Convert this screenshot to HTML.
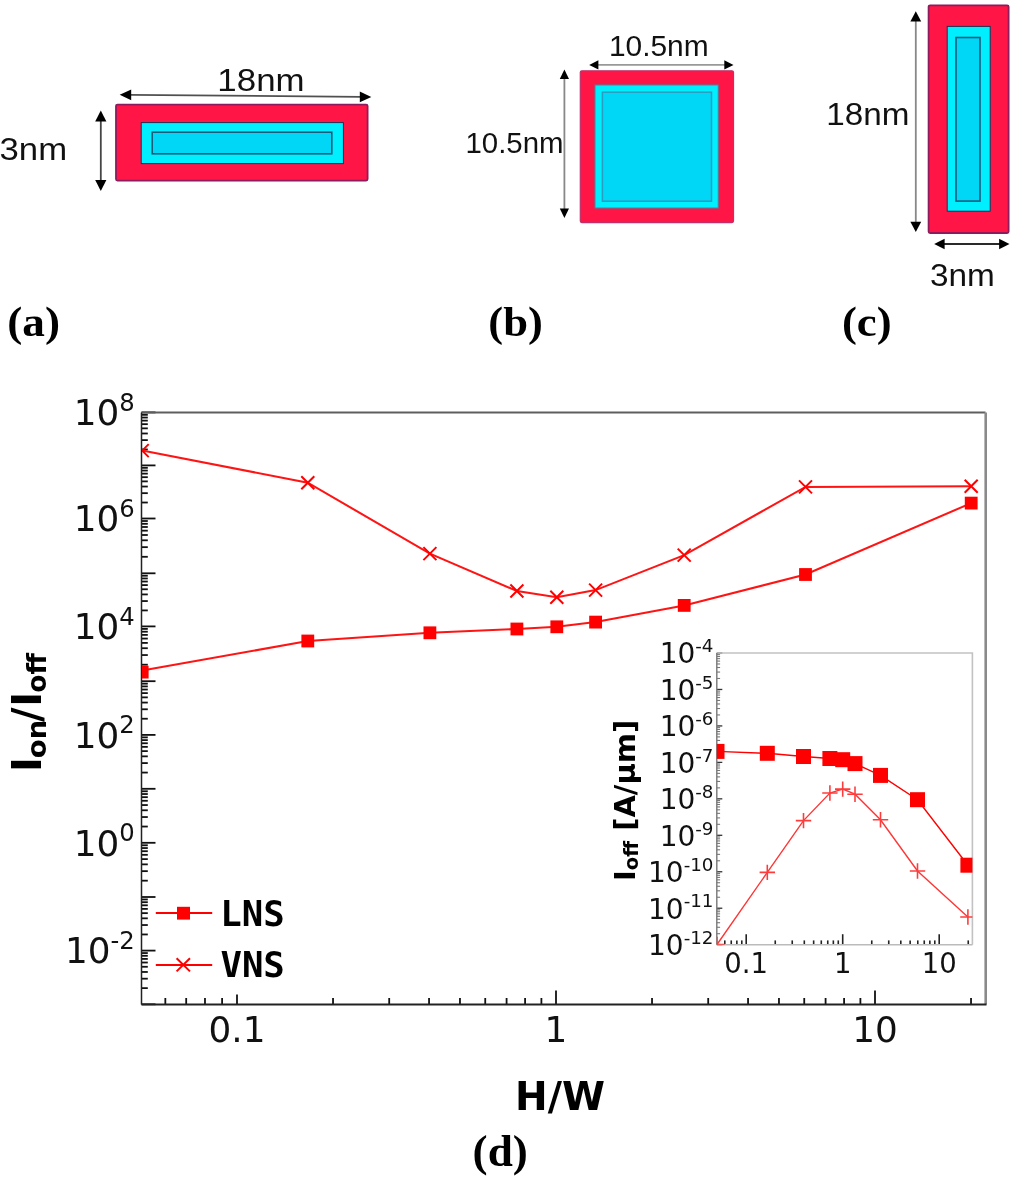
<!DOCTYPE html>
<html><head><meta charset="utf-8"><title>Figure</title>
<style>html,body{margin:0;padding:0;background:#fff;}svg{display:block;}</style></head>
<body><svg width="1018" height="1178" viewBox="0 0 1018 1178">
<rect width="1018" height="1178" fill="#fff"/>
<rect x="116" y="104.6" width="251.6" height="76" rx="1.5" fill="#ff1646" stroke="#8c1c5c" stroke-width="1.8"/>
<rect x="141.2" y="122.6" width="202.2" height="41" fill="#00efff" stroke="#1e3050" stroke-width="1"/>
<rect x="152.2" y="132.2" width="179.6" height="21.6" fill="#00d6f5" stroke="#1a5c7c" stroke-width="1.6"/>
<rect x="580.3" y="70.8" width="153.2" height="151.8" rx="1.5" fill="#ff1646" stroke="#c0306a" stroke-width="1.2"/>
<rect x="595" y="85" width="123.2" height="123" fill="#00efff" stroke="#3a8aa0" stroke-width="1"/>
<rect x="602.4" y="92.2" width="109.1" height="109" fill="#00d6f5" stroke="#2a9cc0" stroke-width="1.5"/>
<rect x="928.6" y="5.3" width="80" height="227.7" rx="1.5" fill="#ff1646" stroke="#8c1c5c" stroke-width="1.8"/>
<rect x="947.2" y="26.4" width="43" height="184.8" fill="#00efff" stroke="#1e3050" stroke-width="1"/>
<rect x="956" y="37.5" width="24" height="163.6" fill="#00d6f5" stroke="#1a5c7c" stroke-width="1.6"/>
<line x1="130.2" y1="94.8" x2="360.8" y2="96.9" stroke="#505050" stroke-width="1.8"/>
<path d="M119.7 94.8 L131.2 89.4 L131.2 100.2Z" fill="#000"/>
<path d="M371.3 96.9 L359.8 91.5 L359.8 102.3Z" fill="#000"/>
<line x1="100.8" y1="120.5" x2="100.8" y2="181" stroke="#454545" stroke-width="1.8"/>
<path d="M100.8 110.5 L95.2 121.5 L106.4 121.5Z" fill="#000"/>
<path d="M100.8 191 L95.2 180 L106.4 180Z" fill="#000"/>
<line x1="597.4" y1="64.9" x2="725.3" y2="64.9" stroke="#999" stroke-width="1.8"/>
<path d="M589.2 64.9 L598.4 60.3 L598.4 69.5Z" fill="#000"/>
<path d="M733.5 64.9 L724.3 60.3 L724.3 69.5Z" fill="#000"/>
<line x1="564.4" y1="78" x2="564.4" y2="209.5" stroke="#888" stroke-width="1.8"/>
<path d="M564.4 69.5 L559.8 79 L569 79Z" fill="#000"/>
<path d="M564.4 218 L559.8 208.5 L569 208.5Z" fill="#000"/>
<line x1="915.8" y1="20.6" x2="915.8" y2="222.7" stroke="#888" stroke-width="1.8"/>
<path d="M915.8 11.3 L910.4 21.6 L921.2 21.6Z" fill="#000"/>
<path d="M915.8 232 L910.4 221.7 L921.2 221.7Z" fill="#000"/>
<line x1="943.6" y1="244" x2="1000.1" y2="244" stroke="#2a2a2a" stroke-width="1.8"/>
<path d="M934.2 244 L944.6 238.8 L944.6 249.2Z" fill="#000"/>
<path d="M1009.5 244 L999.1 238.8 L999.1 249.2Z" fill="#000"/>
<text x="217.35" y="90.9" style="font-family:'Liberation Sans','DejaVu Sans',sans-serif;fill:#111;font-size:31.3px" textLength="87.25" lengthAdjust="spacingAndGlyphs">18nm</text>
<text x="-0.52" y="159.9" style="font-family:'Liberation Sans','DejaVu Sans',sans-serif;fill:#111;font-size:31.6px" textLength="67.61" lengthAdjust="spacingAndGlyphs">3nm</text>
<text x="608.92" y="55.7" style="font-family:'Liberation Sans','DejaVu Sans',sans-serif;fill:#111;font-size:28.6px" textLength="99.75" lengthAdjust="spacingAndGlyphs">10.5nm</text>
<text x="465.46" y="153.1" style="font-family:'Liberation Sans','DejaVu Sans',sans-serif;fill:#111;font-size:29px" textLength="98.08" lengthAdjust="spacingAndGlyphs">10.5nm</text>
<text x="826.37" y="125.3" style="font-family:'Liberation Sans','DejaVu Sans',sans-serif;fill:#111;font-size:31.8px" textLength="83.12" lengthAdjust="spacingAndGlyphs">18nm</text>
<text x="930.03" y="285.9" style="font-family:'Liberation Sans','DejaVu Sans',sans-serif;fill:#111;font-size:31.1px" textLength="64.86" lengthAdjust="spacingAndGlyphs">3nm</text>
<text x="7.31" y="336" style="font-family:'Liberation Serif',serif;font-weight:bold;fill:#000;font-size:42.6px" textLength="52.78" lengthAdjust="spacingAndGlyphs">(a)</text>
<text x="488.34" y="336" style="font-family:'Liberation Serif',serif;font-weight:bold;fill:#000;font-size:42.6px" textLength="54.52" lengthAdjust="spacingAndGlyphs">(b)</text>
<text x="841.93" y="336" style="font-family:'Liberation Serif',serif;font-weight:bold;fill:#000;font-size:42.6px" textLength="49.73" lengthAdjust="spacingAndGlyphs">(c)</text>
<text x="472.61" y="1166.2" style="font-family:'Liberation Serif',serif;font-weight:bold;fill:#000;font-size:43.6px" textLength="55.28" lengthAdjust="spacingAndGlyphs">(d)</text>
<line x1="141.5" y1="1004.3" x2="155.5" y2="1004.3" stroke="#111" stroke-width="1.8"/>
<line x1="141.5" y1="988.13" x2="147.8" y2="988.13" stroke="#111" stroke-width="1.8"/>
<line x1="141.5" y1="978.68" x2="147.8" y2="978.68" stroke="#111" stroke-width="1.8"/>
<line x1="141.5" y1="971.97" x2="147.8" y2="971.97" stroke="#111" stroke-width="1.8"/>
<line x1="141.5" y1="966.77" x2="147.8" y2="966.77" stroke="#111" stroke-width="1.8"/>
<line x1="141.5" y1="962.51" x2="147.8" y2="962.51" stroke="#111" stroke-width="1.8"/>
<line x1="141.5" y1="958.92" x2="147.8" y2="958.92" stroke="#111" stroke-width="1.8"/>
<line x1="141.5" y1="955.8" x2="147.8" y2="955.8" stroke="#111" stroke-width="1.8"/>
<line x1="141.5" y1="953.06" x2="147.8" y2="953.06" stroke="#111" stroke-width="1.8"/>
<line x1="141.5" y1="950.6" x2="155.5" y2="950.6" stroke="#111" stroke-width="1.8"/>
<line x1="141.5" y1="934.46" x2="147.8" y2="934.46" stroke="#111" stroke-width="1.8"/>
<line x1="141.5" y1="925.03" x2="147.8" y2="925.03" stroke="#111" stroke-width="1.8"/>
<line x1="141.5" y1="918.33" x2="147.8" y2="918.33" stroke="#111" stroke-width="1.8"/>
<line x1="141.5" y1="913.14" x2="147.8" y2="913.14" stroke="#111" stroke-width="1.8"/>
<line x1="141.5" y1="908.89" x2="147.8" y2="908.89" stroke="#111" stroke-width="1.8"/>
<line x1="141.5" y1="905.3" x2="147.8" y2="905.3" stroke="#111" stroke-width="1.8"/>
<line x1="141.5" y1="902.19" x2="147.8" y2="902.19" stroke="#111" stroke-width="1.8"/>
<line x1="141.5" y1="899.45" x2="147.8" y2="899.45" stroke="#111" stroke-width="1.8"/>
<line x1="141.5" y1="897" x2="155.5" y2="897" stroke="#111" stroke-width="1.8"/>
<line x1="141.5" y1="880.68" x2="147.8" y2="880.68" stroke="#111" stroke-width="1.8"/>
<line x1="141.5" y1="871.14" x2="147.8" y2="871.14" stroke="#111" stroke-width="1.8"/>
<line x1="141.5" y1="864.37" x2="147.8" y2="864.37" stroke="#111" stroke-width="1.8"/>
<line x1="141.5" y1="859.12" x2="147.8" y2="859.12" stroke="#111" stroke-width="1.8"/>
<line x1="141.5" y1="854.82" x2="147.8" y2="854.82" stroke="#111" stroke-width="1.8"/>
<line x1="141.5" y1="851.2" x2="147.8" y2="851.2" stroke="#111" stroke-width="1.8"/>
<line x1="141.5" y1="848.05" x2="147.8" y2="848.05" stroke="#111" stroke-width="1.8"/>
<line x1="141.5" y1="845.28" x2="147.8" y2="845.28" stroke="#111" stroke-width="1.8"/>
<line x1="141.5" y1="842.8" x2="155.5" y2="842.8" stroke="#111" stroke-width="1.8"/>
<line x1="141.5" y1="826.54" x2="147.8" y2="826.54" stroke="#111" stroke-width="1.8"/>
<line x1="141.5" y1="817.04" x2="147.8" y2="817.04" stroke="#111" stroke-width="1.8"/>
<line x1="141.5" y1="810.29" x2="147.8" y2="810.29" stroke="#111" stroke-width="1.8"/>
<line x1="141.5" y1="805.06" x2="147.8" y2="805.06" stroke="#111" stroke-width="1.8"/>
<line x1="141.5" y1="800.78" x2="147.8" y2="800.78" stroke="#111" stroke-width="1.8"/>
<line x1="141.5" y1="797.16" x2="147.8" y2="797.16" stroke="#111" stroke-width="1.8"/>
<line x1="141.5" y1="794.03" x2="147.8" y2="794.03" stroke="#111" stroke-width="1.8"/>
<line x1="141.5" y1="791.27" x2="147.8" y2="791.27" stroke="#111" stroke-width="1.8"/>
<line x1="141.5" y1="788.8" x2="155.5" y2="788.8" stroke="#111" stroke-width="1.8"/>
<line x1="141.5" y1="772.57" x2="147.8" y2="772.57" stroke="#111" stroke-width="1.8"/>
<line x1="141.5" y1="763.08" x2="147.8" y2="763.08" stroke="#111" stroke-width="1.8"/>
<line x1="141.5" y1="756.35" x2="147.8" y2="756.35" stroke="#111" stroke-width="1.8"/>
<line x1="141.5" y1="751.13" x2="147.8" y2="751.13" stroke="#111" stroke-width="1.8"/>
<line x1="141.5" y1="746.86" x2="147.8" y2="746.86" stroke="#111" stroke-width="1.8"/>
<line x1="141.5" y1="743.25" x2="147.8" y2="743.25" stroke="#111" stroke-width="1.8"/>
<line x1="141.5" y1="740.12" x2="147.8" y2="740.12" stroke="#111" stroke-width="1.8"/>
<line x1="141.5" y1="737.37" x2="147.8" y2="737.37" stroke="#111" stroke-width="1.8"/>
<line x1="141.5" y1="734.9" x2="155.5" y2="734.9" stroke="#111" stroke-width="1.8"/>
<line x1="141.5" y1="718.73" x2="147.8" y2="718.73" stroke="#111" stroke-width="1.8"/>
<line x1="141.5" y1="709.28" x2="147.8" y2="709.28" stroke="#111" stroke-width="1.8"/>
<line x1="141.5" y1="702.57" x2="147.8" y2="702.57" stroke="#111" stroke-width="1.8"/>
<line x1="141.5" y1="697.37" x2="147.8" y2="697.37" stroke="#111" stroke-width="1.8"/>
<line x1="141.5" y1="693.11" x2="147.8" y2="693.11" stroke="#111" stroke-width="1.8"/>
<line x1="141.5" y1="689.52" x2="147.8" y2="689.52" stroke="#111" stroke-width="1.8"/>
<line x1="141.5" y1="686.4" x2="147.8" y2="686.4" stroke="#111" stroke-width="1.8"/>
<line x1="141.5" y1="683.66" x2="147.8" y2="683.66" stroke="#111" stroke-width="1.8"/>
<line x1="141.5" y1="681.2" x2="155.5" y2="681.2" stroke="#111" stroke-width="1.8"/>
<line x1="141.5" y1="664.7" x2="147.8" y2="664.7" stroke="#111" stroke-width="1.8"/>
<line x1="141.5" y1="655.05" x2="147.8" y2="655.05" stroke="#111" stroke-width="1.8"/>
<line x1="141.5" y1="648.21" x2="147.8" y2="648.21" stroke="#111" stroke-width="1.8"/>
<line x1="141.5" y1="642.9" x2="147.8" y2="642.9" stroke="#111" stroke-width="1.8"/>
<line x1="141.5" y1="638.56" x2="147.8" y2="638.56" stroke="#111" stroke-width="1.8"/>
<line x1="141.5" y1="634.89" x2="147.8" y2="634.89" stroke="#111" stroke-width="1.8"/>
<line x1="141.5" y1="631.71" x2="147.8" y2="631.71" stroke="#111" stroke-width="1.8"/>
<line x1="141.5" y1="628.91" x2="147.8" y2="628.91" stroke="#111" stroke-width="1.8"/>
<line x1="141.5" y1="626.4" x2="155.5" y2="626.4" stroke="#111" stroke-width="1.8"/>
<line x1="141.5" y1="610.42" x2="147.8" y2="610.42" stroke="#111" stroke-width="1.8"/>
<line x1="141.5" y1="601.06" x2="147.8" y2="601.06" stroke="#111" stroke-width="1.8"/>
<line x1="141.5" y1="594.43" x2="147.8" y2="594.43" stroke="#111" stroke-width="1.8"/>
<line x1="141.5" y1="589.28" x2="147.8" y2="589.28" stroke="#111" stroke-width="1.8"/>
<line x1="141.5" y1="585.08" x2="147.8" y2="585.08" stroke="#111" stroke-width="1.8"/>
<line x1="141.5" y1="581.53" x2="147.8" y2="581.53" stroke="#111" stroke-width="1.8"/>
<line x1="141.5" y1="578.45" x2="147.8" y2="578.45" stroke="#111" stroke-width="1.8"/>
<line x1="141.5" y1="575.73" x2="147.8" y2="575.73" stroke="#111" stroke-width="1.8"/>
<line x1="141.5" y1="573.3" x2="155.5" y2="573.3" stroke="#111" stroke-width="1.8"/>
<line x1="141.5" y1="556.8" x2="147.8" y2="556.8" stroke="#111" stroke-width="1.8"/>
<line x1="141.5" y1="547.15" x2="147.8" y2="547.15" stroke="#111" stroke-width="1.8"/>
<line x1="141.5" y1="540.31" x2="147.8" y2="540.31" stroke="#111" stroke-width="1.8"/>
<line x1="141.5" y1="535" x2="147.8" y2="535" stroke="#111" stroke-width="1.8"/>
<line x1="141.5" y1="530.66" x2="147.8" y2="530.66" stroke="#111" stroke-width="1.8"/>
<line x1="141.5" y1="526.99" x2="147.8" y2="526.99" stroke="#111" stroke-width="1.8"/>
<line x1="141.5" y1="523.81" x2="147.8" y2="523.81" stroke="#111" stroke-width="1.8"/>
<line x1="141.5" y1="521.01" x2="147.8" y2="521.01" stroke="#111" stroke-width="1.8"/>
<line x1="141.5" y1="518.5" x2="155.5" y2="518.5" stroke="#111" stroke-width="1.8"/>
<line x1="141.5" y1="502.52" x2="147.8" y2="502.52" stroke="#111" stroke-width="1.8"/>
<line x1="141.5" y1="493.16" x2="147.8" y2="493.16" stroke="#111" stroke-width="1.8"/>
<line x1="141.5" y1="486.53" x2="147.8" y2="486.53" stroke="#111" stroke-width="1.8"/>
<line x1="141.5" y1="481.38" x2="147.8" y2="481.38" stroke="#111" stroke-width="1.8"/>
<line x1="141.5" y1="477.18" x2="147.8" y2="477.18" stroke="#111" stroke-width="1.8"/>
<line x1="141.5" y1="473.63" x2="147.8" y2="473.63" stroke="#111" stroke-width="1.8"/>
<line x1="141.5" y1="470.55" x2="147.8" y2="470.55" stroke="#111" stroke-width="1.8"/>
<line x1="141.5" y1="467.83" x2="147.8" y2="467.83" stroke="#111" stroke-width="1.8"/>
<line x1="141.5" y1="465.4" x2="155.5" y2="465.4" stroke="#111" stroke-width="1.8"/>
<line x1="141.5" y1="449.45" x2="147.8" y2="449.45" stroke="#111" stroke-width="1.8"/>
<line x1="141.5" y1="440.11" x2="147.8" y2="440.11" stroke="#111" stroke-width="1.8"/>
<line x1="141.5" y1="433.49" x2="147.8" y2="433.49" stroke="#111" stroke-width="1.8"/>
<line x1="141.5" y1="428.35" x2="147.8" y2="428.35" stroke="#111" stroke-width="1.8"/>
<line x1="141.5" y1="424.16" x2="147.8" y2="424.16" stroke="#111" stroke-width="1.8"/>
<line x1="141.5" y1="420.61" x2="147.8" y2="420.61" stroke="#111" stroke-width="1.8"/>
<line x1="141.5" y1="417.54" x2="147.8" y2="417.54" stroke="#111" stroke-width="1.8"/>
<line x1="141.5" y1="414.83" x2="147.8" y2="414.83" stroke="#111" stroke-width="1.8"/>
<line x1="141.5" y1="412.4" x2="155.5" y2="412.4" stroke="#111" stroke-width="1.8"/>
<line x1="237" y1="1004.5" x2="237" y2="994.5" stroke="#111" stroke-width="1.8"/>
<line x1="556" y1="1004.5" x2="556" y2="990.5" stroke="#111" stroke-width="1.8"/>
<line x1="875" y1="1004.5" x2="875" y2="990.5" stroke="#111" stroke-width="1.8"/>
<line x1="165.33" y1="1004.5" x2="165.33" y2="998" stroke="#111" stroke-width="1.8"/>
<line x1="186.19" y1="1004.5" x2="186.19" y2="998" stroke="#111" stroke-width="1.8"/>
<line x1="204.99" y1="1004.5" x2="204.99" y2="998" stroke="#111" stroke-width="1.8"/>
<line x1="222.1" y1="1004.5" x2="222.1" y2="998" stroke="#111" stroke-width="1.8"/>
<line x1="333.03" y1="1004.5" x2="333.03" y2="998" stroke="#111" stroke-width="1.8"/>
<line x1="389.2" y1="1004.5" x2="389.2" y2="998" stroke="#111" stroke-width="1.8"/>
<line x1="429.06" y1="1004.5" x2="429.06" y2="998" stroke="#111" stroke-width="1.8"/>
<line x1="459.97" y1="1004.5" x2="459.97" y2="998" stroke="#111" stroke-width="1.8"/>
<line x1="485.23" y1="1004.5" x2="485.23" y2="998" stroke="#111" stroke-width="1.8"/>
<line x1="506.59" y1="1004.5" x2="506.59" y2="998" stroke="#111" stroke-width="1.8"/>
<line x1="525.09" y1="1004.5" x2="525.09" y2="998" stroke="#111" stroke-width="1.8"/>
<line x1="541.4" y1="1004.5" x2="541.4" y2="998" stroke="#111" stroke-width="1.8"/>
<line x1="652.03" y1="1004.5" x2="652.03" y2="998" stroke="#111" stroke-width="1.8"/>
<line x1="708.2" y1="1004.5" x2="708.2" y2="998" stroke="#111" stroke-width="1.8"/>
<line x1="748.06" y1="1004.5" x2="748.06" y2="998" stroke="#111" stroke-width="1.8"/>
<line x1="778.97" y1="1004.5" x2="778.97" y2="998" stroke="#111" stroke-width="1.8"/>
<line x1="804.23" y1="1004.5" x2="804.23" y2="998" stroke="#111" stroke-width="1.8"/>
<line x1="825.59" y1="1004.5" x2="825.59" y2="998" stroke="#111" stroke-width="1.8"/>
<line x1="844.09" y1="1004.5" x2="844.09" y2="998" stroke="#111" stroke-width="1.8"/>
<line x1="860.4" y1="1004.5" x2="860.4" y2="998" stroke="#111" stroke-width="1.8"/>
<line x1="971.03" y1="1004.5" x2="971.03" y2="998" stroke="#111" stroke-width="1.8"/>
<path d="M141.5 412.5 H985.5" fill="none" stroke="#5e5e5e" stroke-width="2.2"/>
<path d="M985.7 412.5 V1004.5" fill="none" stroke="#8a8a8a" stroke-width="2.6"/>
<path d="M141.5 412.5 V1004.5" fill="none" stroke="#222" stroke-width="1.5"/>
<path d="M141.5 1004.5 H986.5" fill="none" stroke="#222" stroke-width="2"/>
<text x="134.7" y="425.2" text-anchor="end" style="font-family:'DejaVu Sans',sans-serif;fill:#111;font-size:35.8px">10<tspan dy="-14.3" style="font-size:24.3px">8</tspan></text>
<text x="134.7" y="531.3" text-anchor="end" style="font-family:'DejaVu Sans',sans-serif;fill:#111;font-size:35.8px">10<tspan dy="-14.3" style="font-size:24.3px">6</tspan></text>
<text x="134.7" y="639.2" text-anchor="end" style="font-family:'DejaVu Sans',sans-serif;fill:#111;font-size:35.8px">10<tspan dy="-14.3" style="font-size:24.3px">4</tspan></text>
<text x="134.7" y="747.7" text-anchor="end" style="font-family:'DejaVu Sans',sans-serif;fill:#111;font-size:35.8px">10<tspan dy="-14.3" style="font-size:24.3px">2</tspan></text>
<text x="134.7" y="855.6" text-anchor="end" style="font-family:'DejaVu Sans',sans-serif;fill:#111;font-size:35.8px">10<tspan dy="-14.3" style="font-size:24.3px">0</tspan></text>
<text x="134.7" y="963.4" text-anchor="end" style="font-family:'DejaVu Sans',sans-serif;fill:#111;font-size:35.8px">10<tspan dy="-14.3" style="font-size:24.3px">-2</tspan></text>
<text x="237" y="1041.5" text-anchor="middle" style="font-family:'DejaVu Sans',sans-serif;fill:#111;font-size:35.8px">0.1</text>
<text x="556" y="1041.5" text-anchor="middle" style="font-family:'DejaVu Sans',sans-serif;fill:#111;font-size:35.8px">1</text>
<text x="875" y="1041.5" text-anchor="middle" style="font-family:'DejaVu Sans',sans-serif;fill:#111;font-size:35.8px">10</text>
<text x="560" y="1109.5" text-anchor="middle" style="font-family:'DejaVu Sans',sans-serif;font-weight:bold;fill:#000;font-size:39px">H/W</text>
<text transform="translate(41.2 0) rotate(-90)" style="font-family:'DejaVu Sans',sans-serif;font-weight:bold;fill:#000;font-size:40px"><tspan x="-771.97" y="0">I</tspan><tspan x="-758.2" y="4.9" style="font-size:27.4px">on</tspan><tspan x="-722" y="0">/</tspan><tspan x="-706.67" y="0">I</tspan><tspan x="-692.84" y="4.9" style="font-size:26.5px">off</tspan></text>
<defs><clipPath id="cm"><rect x="142" y="412" width="844" height="593"/></clipPath><clipPath id="ci"><rect x="716.8" y="653" width="255.6" height="291.7"/></clipPath></defs>
<g clip-path="url(#cm)">
<polyline points="142.2,450.6 307.8,482.7 429.9,553.6 516.9,591 556.8,597.2 595.6,590.1 684.2,555.1 805.5,486.9 971.2,486.2" fill="none" stroke="#ff1414" stroke-width="2.05"/>
<polyline points="142.2,670.6 307.8,641 429.9,632.8 516.9,629 556.8,626.8 595.6,622.1 684.2,605.4 805.5,574.5 971.2,503.1" fill="none" stroke="#ff1414" stroke-width="2.05"/>
<path d="M135.7 444.1 L148.7 457.1 M135.7 457.1 L148.7 444.1" stroke="#ff0000" stroke-width="2"/>
<path d="M301.3 476.2 L314.3 489.2 M301.3 489.2 L314.3 476.2" stroke="#ff0000" stroke-width="2"/>
<path d="M423.4 547.1 L436.4 560.1 M423.4 560.1 L436.4 547.1" stroke="#ff0000" stroke-width="2"/>
<path d="M510.4 584.5 L523.4 597.5 M510.4 597.5 L523.4 584.5" stroke="#ff0000" stroke-width="2"/>
<path d="M550.3 590.7 L563.3 603.7 M550.3 603.7 L563.3 590.7" stroke="#ff0000" stroke-width="2"/>
<path d="M589.1 583.6 L602.1 596.6 M589.1 596.6 L602.1 583.6" stroke="#ff0000" stroke-width="2"/>
<path d="M677.7 548.6 L690.7 561.6 M677.7 561.6 L690.7 548.6" stroke="#ff0000" stroke-width="2"/>
<path d="M799 480.4 L812 493.4 M799 493.4 L812 480.4" stroke="#ff0000" stroke-width="2"/>
<path d="M964.7 479.7 L977.7 492.7 M964.7 492.7 L977.7 479.7" stroke="#ff0000" stroke-width="2"/>
<rect x="135.8" y="665.7" width="12.8" height="12.8" fill="#ff0000"/>
<rect x="301.4" y="634.6" width="12.8" height="12.8" fill="#ff0000"/>
<rect x="423.5" y="626.4" width="12.8" height="12.8" fill="#ff0000"/>
<rect x="510.5" y="622.6" width="12.8" height="12.8" fill="#ff0000"/>
<rect x="550.4" y="620.4" width="12.8" height="12.8" fill="#ff0000"/>
<rect x="589.2" y="615.7" width="12.8" height="12.8" fill="#ff0000"/>
<rect x="677.8" y="599" width="12.8" height="12.8" fill="#ff0000"/>
<rect x="799.1" y="568.1" width="12.8" height="12.8" fill="#ff0000"/>
<rect x="964.8" y="496.7" width="12.8" height="12.8" fill="#ff0000"/>
</g>
<line x1="155.8" y1="913.1" x2="212.2" y2="913.1" stroke="#ff0000" stroke-width="2"/>
<rect x="177" y="906.8" width="13" height="12.8" fill="#ff0000"/>
<line x1="155.8" y1="965" x2="212.2" y2="965" stroke="#ff0000" stroke-width="2"/>
<path d="M176.6 958.2 L190 971.4 M176.6 971.4 L190 958.2" stroke="#ff0000" stroke-width="2"/>
<text x="220.3" y="926" style="font-family:'DejaVu Sans Mono',monospace;font-weight:bold;fill:#000;font-size:35.7px">LNS</text>
<text x="220.4" y="976.6" style="font-family:'DejaVu Sans Mono',monospace;font-weight:bold;fill:#000;font-size:35.7px">VNS</text>
<rect x="716.8" y="653.0" width="255.60000000000002" height="291.70000000000005" fill="#fff"/>
<line x1="716.8" y1="944.68" x2="722.3" y2="944.68" stroke="#333" stroke-width="1.3"/>
<line x1="716.8" y1="908.22" x2="722.3" y2="908.22" stroke="#333" stroke-width="1.3"/>
<line x1="716.8" y1="871.76" x2="722.3" y2="871.76" stroke="#333" stroke-width="1.3"/>
<line x1="716.8" y1="835.3" x2="722.3" y2="835.3" stroke="#333" stroke-width="1.3"/>
<line x1="716.8" y1="798.84" x2="722.3" y2="798.84" stroke="#333" stroke-width="1.3"/>
<line x1="716.8" y1="762.38" x2="722.3" y2="762.38" stroke="#333" stroke-width="1.3"/>
<line x1="716.8" y1="725.92" x2="722.3" y2="725.92" stroke="#333" stroke-width="1.3"/>
<line x1="716.8" y1="689.46" x2="722.3" y2="689.46" stroke="#333" stroke-width="1.3"/>
<line x1="716.8" y1="653" x2="722.3" y2="653" stroke="#333" stroke-width="1.3"/>
<line x1="716.8" y1="933.7" x2="720.0999999999999" y2="933.7" stroke="#777" stroke-width="1.1"/>
<line x1="716.8" y1="927.28" x2="720.0999999999999" y2="927.28" stroke="#777" stroke-width="1.1"/>
<line x1="716.8" y1="922.73" x2="720.0999999999999" y2="922.73" stroke="#777" stroke-width="1.1"/>
<line x1="716.8" y1="919.2" x2="720.0999999999999" y2="919.2" stroke="#777" stroke-width="1.1"/>
<line x1="716.8" y1="916.31" x2="720.0999999999999" y2="916.31" stroke="#777" stroke-width="1.1"/>
<line x1="716.8" y1="913.87" x2="720.0999999999999" y2="913.87" stroke="#777" stroke-width="1.1"/>
<line x1="716.8" y1="911.75" x2="720.0999999999999" y2="911.75" stroke="#777" stroke-width="1.1"/>
<line x1="716.8" y1="909.89" x2="720.0999999999999" y2="909.89" stroke="#777" stroke-width="1.1"/>
<line x1="716.8" y1="897.24" x2="720.0999999999999" y2="897.24" stroke="#777" stroke-width="1.1"/>
<line x1="716.8" y1="890.82" x2="720.0999999999999" y2="890.82" stroke="#777" stroke-width="1.1"/>
<line x1="716.8" y1="886.27" x2="720.0999999999999" y2="886.27" stroke="#777" stroke-width="1.1"/>
<line x1="716.8" y1="882.74" x2="720.0999999999999" y2="882.74" stroke="#777" stroke-width="1.1"/>
<line x1="716.8" y1="879.85" x2="720.0999999999999" y2="879.85" stroke="#777" stroke-width="1.1"/>
<line x1="716.8" y1="877.41" x2="720.0999999999999" y2="877.41" stroke="#777" stroke-width="1.1"/>
<line x1="716.8" y1="875.29" x2="720.0999999999999" y2="875.29" stroke="#777" stroke-width="1.1"/>
<line x1="716.8" y1="873.43" x2="720.0999999999999" y2="873.43" stroke="#777" stroke-width="1.1"/>
<line x1="716.8" y1="860.78" x2="720.0999999999999" y2="860.78" stroke="#777" stroke-width="1.1"/>
<line x1="716.8" y1="854.36" x2="720.0999999999999" y2="854.36" stroke="#777" stroke-width="1.1"/>
<line x1="716.8" y1="849.81" x2="720.0999999999999" y2="849.81" stroke="#777" stroke-width="1.1"/>
<line x1="716.8" y1="846.28" x2="720.0999999999999" y2="846.28" stroke="#777" stroke-width="1.1"/>
<line x1="716.8" y1="843.39" x2="720.0999999999999" y2="843.39" stroke="#777" stroke-width="1.1"/>
<line x1="716.8" y1="840.95" x2="720.0999999999999" y2="840.95" stroke="#777" stroke-width="1.1"/>
<line x1="716.8" y1="838.83" x2="720.0999999999999" y2="838.83" stroke="#777" stroke-width="1.1"/>
<line x1="716.8" y1="836.97" x2="720.0999999999999" y2="836.97" stroke="#777" stroke-width="1.1"/>
<line x1="716.8" y1="824.32" x2="720.0999999999999" y2="824.32" stroke="#777" stroke-width="1.1"/>
<line x1="716.8" y1="817.9" x2="720.0999999999999" y2="817.9" stroke="#777" stroke-width="1.1"/>
<line x1="716.8" y1="813.35" x2="720.0999999999999" y2="813.35" stroke="#777" stroke-width="1.1"/>
<line x1="716.8" y1="809.82" x2="720.0999999999999" y2="809.82" stroke="#777" stroke-width="1.1"/>
<line x1="716.8" y1="806.93" x2="720.0999999999999" y2="806.93" stroke="#777" stroke-width="1.1"/>
<line x1="716.8" y1="804.49" x2="720.0999999999999" y2="804.49" stroke="#777" stroke-width="1.1"/>
<line x1="716.8" y1="802.37" x2="720.0999999999999" y2="802.37" stroke="#777" stroke-width="1.1"/>
<line x1="716.8" y1="800.51" x2="720.0999999999999" y2="800.51" stroke="#777" stroke-width="1.1"/>
<line x1="716.8" y1="787.86" x2="720.0999999999999" y2="787.86" stroke="#777" stroke-width="1.1"/>
<line x1="716.8" y1="781.44" x2="720.0999999999999" y2="781.44" stroke="#777" stroke-width="1.1"/>
<line x1="716.8" y1="776.89" x2="720.0999999999999" y2="776.89" stroke="#777" stroke-width="1.1"/>
<line x1="716.8" y1="773.36" x2="720.0999999999999" y2="773.36" stroke="#777" stroke-width="1.1"/>
<line x1="716.8" y1="770.47" x2="720.0999999999999" y2="770.47" stroke="#777" stroke-width="1.1"/>
<line x1="716.8" y1="768.03" x2="720.0999999999999" y2="768.03" stroke="#777" stroke-width="1.1"/>
<line x1="716.8" y1="765.91" x2="720.0999999999999" y2="765.91" stroke="#777" stroke-width="1.1"/>
<line x1="716.8" y1="764.05" x2="720.0999999999999" y2="764.05" stroke="#777" stroke-width="1.1"/>
<line x1="716.8" y1="751.4" x2="720.0999999999999" y2="751.4" stroke="#777" stroke-width="1.1"/>
<line x1="716.8" y1="744.98" x2="720.0999999999999" y2="744.98" stroke="#777" stroke-width="1.1"/>
<line x1="716.8" y1="740.43" x2="720.0999999999999" y2="740.43" stroke="#777" stroke-width="1.1"/>
<line x1="716.8" y1="736.9" x2="720.0999999999999" y2="736.9" stroke="#777" stroke-width="1.1"/>
<line x1="716.8" y1="734.01" x2="720.0999999999999" y2="734.01" stroke="#777" stroke-width="1.1"/>
<line x1="716.8" y1="731.57" x2="720.0999999999999" y2="731.57" stroke="#777" stroke-width="1.1"/>
<line x1="716.8" y1="729.45" x2="720.0999999999999" y2="729.45" stroke="#777" stroke-width="1.1"/>
<line x1="716.8" y1="727.59" x2="720.0999999999999" y2="727.59" stroke="#777" stroke-width="1.1"/>
<line x1="716.8" y1="714.94" x2="720.0999999999999" y2="714.94" stroke="#777" stroke-width="1.1"/>
<line x1="716.8" y1="708.52" x2="720.0999999999999" y2="708.52" stroke="#777" stroke-width="1.1"/>
<line x1="716.8" y1="703.97" x2="720.0999999999999" y2="703.97" stroke="#777" stroke-width="1.1"/>
<line x1="716.8" y1="700.44" x2="720.0999999999999" y2="700.44" stroke="#777" stroke-width="1.1"/>
<line x1="716.8" y1="697.55" x2="720.0999999999999" y2="697.55" stroke="#777" stroke-width="1.1"/>
<line x1="716.8" y1="695.11" x2="720.0999999999999" y2="695.11" stroke="#777" stroke-width="1.1"/>
<line x1="716.8" y1="692.99" x2="720.0999999999999" y2="692.99" stroke="#777" stroke-width="1.1"/>
<line x1="716.8" y1="691.13" x2="720.0999999999999" y2="691.13" stroke="#777" stroke-width="1.1"/>
<line x1="716.8" y1="678.48" x2="720.0999999999999" y2="678.48" stroke="#777" stroke-width="1.1"/>
<line x1="716.8" y1="672.06" x2="720.0999999999999" y2="672.06" stroke="#777" stroke-width="1.1"/>
<line x1="716.8" y1="667.51" x2="720.0999999999999" y2="667.51" stroke="#777" stroke-width="1.1"/>
<line x1="716.8" y1="663.98" x2="720.0999999999999" y2="663.98" stroke="#777" stroke-width="1.1"/>
<line x1="716.8" y1="661.09" x2="720.0999999999999" y2="661.09" stroke="#777" stroke-width="1.1"/>
<line x1="716.8" y1="658.65" x2="720.0999999999999" y2="658.65" stroke="#777" stroke-width="1.1"/>
<line x1="716.8" y1="656.53" x2="720.0999999999999" y2="656.53" stroke="#777" stroke-width="1.1"/>
<line x1="716.8" y1="654.67" x2="720.0999999999999" y2="654.67" stroke="#777" stroke-width="1.1"/>
<line x1="746.2" y1="944.7" x2="746.2" y2="934.2" stroke="#222" stroke-width="1.6"/>
<line x1="842.7" y1="944.7" x2="842.7" y2="934.2" stroke="#222" stroke-width="1.6"/>
<line x1="939.2" y1="944.7" x2="939.2" y2="934.2" stroke="#222" stroke-width="1.6"/>
<line x1="724.79" y1="944.7" x2="724.79" y2="940.4" stroke="#222" stroke-width="1.6"/>
<line x1="731.25" y1="944.7" x2="731.25" y2="940.4" stroke="#222" stroke-width="1.6"/>
<line x1="736.85" y1="944.7" x2="736.85" y2="940.4" stroke="#222" stroke-width="1.6"/>
<line x1="741.78" y1="944.7" x2="741.78" y2="940.4" stroke="#222" stroke-width="1.6"/>
<line x1="775.25" y1="944.7" x2="775.25" y2="940.4" stroke="#222" stroke-width="1.6"/>
<line x1="792.24" y1="944.7" x2="792.24" y2="940.4" stroke="#222" stroke-width="1.6"/>
<line x1="804.3" y1="944.7" x2="804.3" y2="940.4" stroke="#222" stroke-width="1.6"/>
<line x1="813.65" y1="944.7" x2="813.65" y2="940.4" stroke="#222" stroke-width="1.6"/>
<line x1="821.29" y1="944.7" x2="821.29" y2="940.4" stroke="#222" stroke-width="1.6"/>
<line x1="827.75" y1="944.7" x2="827.75" y2="940.4" stroke="#222" stroke-width="1.6"/>
<line x1="833.35" y1="944.7" x2="833.35" y2="940.4" stroke="#222" stroke-width="1.6"/>
<line x1="838.28" y1="944.7" x2="838.28" y2="940.4" stroke="#222" stroke-width="1.6"/>
<line x1="871.75" y1="944.7" x2="871.75" y2="940.4" stroke="#222" stroke-width="1.6"/>
<line x1="888.74" y1="944.7" x2="888.74" y2="940.4" stroke="#222" stroke-width="1.6"/>
<line x1="900.8" y1="944.7" x2="900.8" y2="940.4" stroke="#222" stroke-width="1.6"/>
<line x1="910.15" y1="944.7" x2="910.15" y2="940.4" stroke="#222" stroke-width="1.6"/>
<line x1="917.79" y1="944.7" x2="917.79" y2="940.4" stroke="#222" stroke-width="1.6"/>
<line x1="924.25" y1="944.7" x2="924.25" y2="940.4" stroke="#222" stroke-width="1.6"/>
<line x1="929.85" y1="944.7" x2="929.85" y2="940.4" stroke="#222" stroke-width="1.6"/>
<line x1="934.78" y1="944.7" x2="934.78" y2="940.4" stroke="#222" stroke-width="1.6"/>
<line x1="968.25" y1="944.7" x2="968.25" y2="940.4" stroke="#222" stroke-width="1.6"/>
<path d="M716.8 653.0 H972.4 V944.7" fill="none" stroke="#c2c2c2" stroke-width="1.6"/>
<path d="M716.8 653.0 V944.7" fill="none" stroke="#777" stroke-width="1.4"/>
<path d="M716.8 944.7 H972.4" fill="none" stroke="#bbb" stroke-width="1.6"/>
<text x="713.5" y="955.08" text-anchor="end" style="font-family:'DejaVu Sans',sans-serif;fill:#111;font-size:28px">10<tspan dy="-11.2" style="font-size:18.3px">-12</tspan></text>
<text x="713.5" y="918.62" text-anchor="end" style="font-family:'DejaVu Sans',sans-serif;fill:#111;font-size:28px">10<tspan dy="-11.2" style="font-size:18.3px">-11</tspan></text>
<text x="713.5" y="882.16" text-anchor="end" style="font-family:'DejaVu Sans',sans-serif;fill:#111;font-size:28px">10<tspan dy="-11.2" style="font-size:18.3px">-10</tspan></text>
<text x="713.5" y="845.7" text-anchor="end" style="font-family:'DejaVu Sans',sans-serif;fill:#111;font-size:28px">10<tspan dy="-11.2" style="font-size:18.3px">-9</tspan></text>
<text x="713.5" y="809.24" text-anchor="end" style="font-family:'DejaVu Sans',sans-serif;fill:#111;font-size:28px">10<tspan dy="-11.2" style="font-size:18.3px">-8</tspan></text>
<text x="713.5" y="772.78" text-anchor="end" style="font-family:'DejaVu Sans',sans-serif;fill:#111;font-size:28px">10<tspan dy="-11.2" style="font-size:18.3px">-7</tspan></text>
<text x="713.5" y="736.32" text-anchor="end" style="font-family:'DejaVu Sans',sans-serif;fill:#111;font-size:28px">10<tspan dy="-11.2" style="font-size:18.3px">-6</tspan></text>
<text x="713.5" y="699.86" text-anchor="end" style="font-family:'DejaVu Sans',sans-serif;fill:#111;font-size:28px">10<tspan dy="-11.2" style="font-size:18.3px">-5</tspan></text>
<text x="713.5" y="663.4" text-anchor="end" style="font-family:'DejaVu Sans',sans-serif;fill:#111;font-size:28px">10<tspan dy="-11.2" style="font-size:18.3px">-4</tspan></text>
<text x="746.2" y="972.7" text-anchor="middle" style="font-family:'DejaVu Sans',sans-serif;fill:#111;font-size:27.5px">0.1</text>
<text x="842.7" y="972.7" text-anchor="middle" style="font-family:'DejaVu Sans',sans-serif;fill:#111;font-size:27.5px">1</text>
<text x="939.2" y="972.7" text-anchor="middle" style="font-family:'DejaVu Sans',sans-serif;fill:#111;font-size:27.5px">10</text>
<text transform="translate(634.8 880.96) rotate(-90)" style="font-family:'DejaVu Sans',sans-serif;font-weight:bold;fill:#000;font-size:29px">I<tspan dy="3.4" style="font-size:19.5px">off</tspan><tspan dy="-3.4"> [A/µm]</tspan></text>
<g clip-path="url(#ci)">
<polyline points="717,751.4 767.3,753.3 803.5,756.5 829.9,758.5 842.7,759.7 855,763.6 880.5,775.4 917.5,799.7 967.9,865.2" fill="none" stroke="#ff0000" stroke-width="1.4"/>
<polyline points="717,944.5 767.3,872.4 803.5,820.6 829.9,793 842.7,789.1 855,794.2 880.5,819.8 917.5,871 967.9,917" fill="none" stroke="#ff3636" stroke-width="1.4"/>
<rect x="709.5" y="743.9" width="15" height="15" fill="#ff0000"/>
<rect x="759.8" y="745.8" width="15" height="15" fill="#ff0000"/>
<rect x="796" y="749" width="15" height="15" fill="#ff0000"/>
<rect x="822.4" y="751" width="15" height="15" fill="#ff0000"/>
<rect x="835.2" y="752.2" width="15" height="15" fill="#ff0000"/>
<rect x="847.5" y="756.1" width="15" height="15" fill="#ff0000"/>
<rect x="873" y="767.9" width="15" height="15" fill="#ff0000"/>
<rect x="910" y="792.2" width="15" height="15" fill="#ff0000"/>
<rect x="960.4" y="857.7" width="15" height="15" fill="#ff0000"/>
<path d="M709.3 944.5 H724.7 M717 936.8 V952.2" stroke="#ff3c3c" stroke-width="1.6"/>
<path d="M759.6 872.4 H775 M767.3 864.7 V880.1" stroke="#ff3c3c" stroke-width="1.6"/>
<path d="M795.8 820.6 H811.2 M803.5 812.9 V828.3" stroke="#ff3c3c" stroke-width="1.6"/>
<path d="M822.2 793 H837.6 M829.9 785.3 V800.7" stroke="#ff3c3c" stroke-width="1.6"/>
<path d="M835 789.1 H850.4 M842.7 781.4 V796.8" stroke="#ff3c3c" stroke-width="1.6"/>
<path d="M847.3 794.2 H862.7 M855 786.5 V801.9" stroke="#ff3c3c" stroke-width="1.6"/>
<path d="M872.8 819.8 H888.2 M880.5 812.1 V827.5" stroke="#ff3c3c" stroke-width="1.6"/>
<path d="M909.8 871 H925.2 M917.5 863.3 V878.7" stroke="#ff3c3c" stroke-width="1.6"/>
<path d="M960.2 917 H975.6 M967.9 909.3 V924.7" stroke="#ff3c3c" stroke-width="1.6"/>
</g>
</svg></body></html>
